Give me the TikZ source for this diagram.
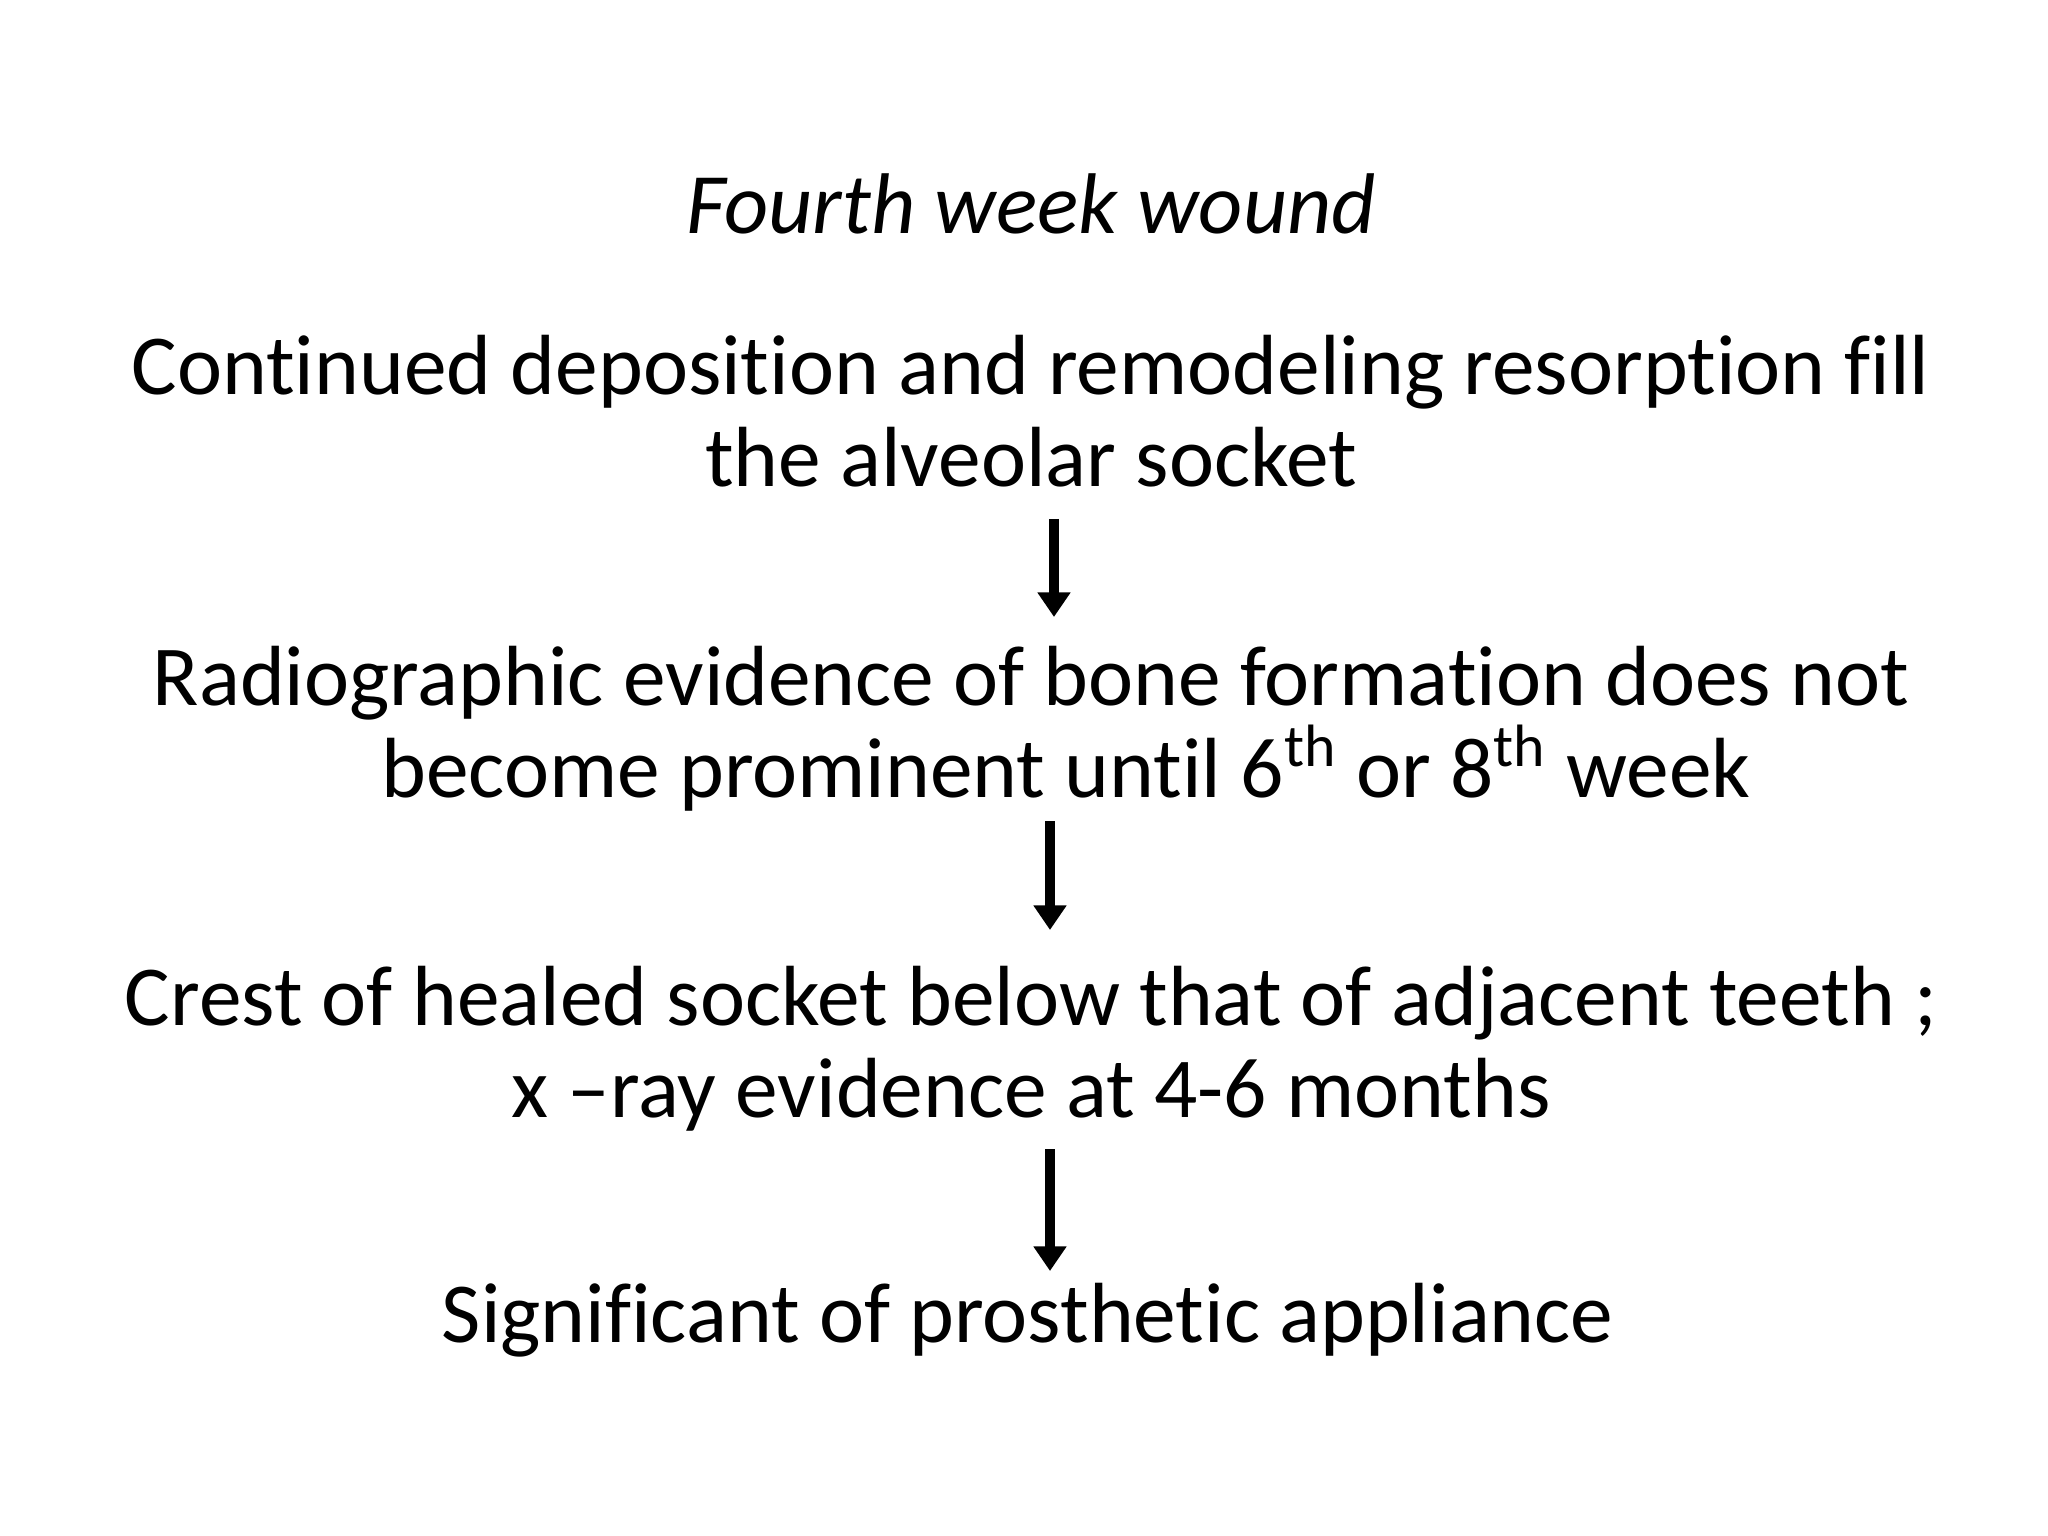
\documentclass[tikz,border=0pt]{standalone}
\usepackage{fontspec}
\setmainfont[RawFeature=-liga]{Carlito}
\usetikzlibrary{arrows.meta}
\begin{document}
\begin{tikzpicture}[
  txt/.style={align=center,font=\fontsize{24.3pt}{26.3pt}\selectfont,inner sep=0pt},
  arr/.style={line width=2.6pt,-{Triangle[width=9pt,length=7pt]}}]
\useasboundingbox (0,0) rectangle (20.48,-15.36);
\node[inner sep=0pt,font=\fontsize{24.5pt}{28pt}\selectfont\itshape] (title) at (10.31,-2.04) {Fourth week wound};
\node[txt] (b1) at (10.31,-4.11) {Continued deposition and remodeling resorption fill\\the alveolar socket};
\node[txt] (b2) at (10.31,-7.29) {Radiographic evidence of bone formation does not\\\hspace*{0.7cm}become prominent until 6\textsuperscript{th} or 8\textsuperscript{th} week};
\node[txt] (b3) at (10.31,-10.49) {Crest of healed socket below that of adjacent teeth ;\\x --ray evidence at 4-6 months};
\node[txt] (b4) at (10.28,-13.20) {Significant of prosthetic appliance};
\coordinate (a1s) at (10.54,-5.19); \coordinate (a1e) at (10.54,-6.17);
\coordinate (a2s) at (10.50,-8.21); \coordinate (a2e) at (10.50,-9.30);
\coordinate (a3s) at (10.50,-11.49); \coordinate (a3e) at (10.50,-12.71);
\draw[arr] (a1s) -- (a1e);
\draw[arr] (a2s) -- (a2e);
\draw[arr] (a3s) -- (a3e);
\end{tikzpicture}
\end{document}
